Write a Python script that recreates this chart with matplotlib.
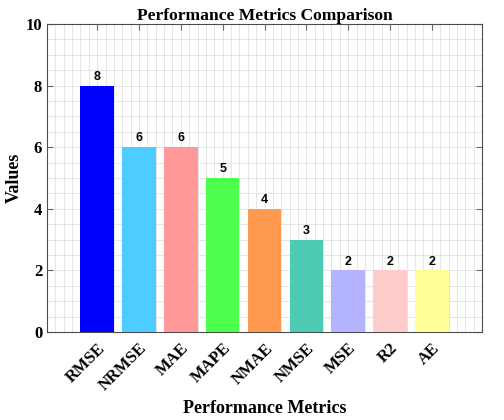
import matplotlib
matplotlib.use("Agg")
import matplotlib.pyplot as plt
import matplotlib.transforms as mtransforms
from matplotlib.ticker import MultipleLocator, FixedLocator

metrics = ["RMSE", "NRMSE", "MAE", "MAPE", "NMAE", "NMSE", "MSE", "R2", "AE"]
values = [8, 6, 6, 5, 4, 3, 2, 2, 2]
colors = [(0, 0, 1), (0.3, 0.8, 1), (1, 0.6, 0.6), (0.3, 1, 0.3), (1, 0.6, 0.3),
          (0.3, 0.8, 0.7), (0.7, 0.7, 1), (1, 0.8, 0.8), (1, 1, 0.6)]

serif = ["Liberation Serif", "DejaVu Serif"]
sans = ["Liberation Sans", "DejaVu Sans"]

fig = plt.figure(figsize=(5.04, 4.2), dpi=100)
ax = fig.add_axes([47/504, 88/420, 435/504, 308/420])

pos = list(range(1, len(metrics) + 1))
bars = ax.bar(pos, values, width=0.8, color=colors, zorder=3)
for p, v in zip(pos, values):
    ax.annotate(str(v), (p, v), xytext=(0, 2), textcoords="offset points",
                ha="center", va="bottom", fontsize=9, fontweight="bold",
                family=sans, zorder=4)

ax.set_xlim(-0.2, 10.2)
ax.set_ylim(0, 10)
ax.xaxis.set_major_locator(FixedLocator(pos))
ax.xaxis.set_minor_locator(MultipleLocator(0.2))
ax.yaxis.set_major_locator(MultipleLocator(2))
ax.yaxis.set_minor_locator(MultipleLocator(0.5))
ax.set_xticklabels(metrics, rotation=45, ha="right", rotation_mode="anchor",
                   fontsize=12, fontweight="bold", family=serif)
offset = mtransforms.ScaledTranslation(4/100, 0, fig.dpi_scale_trans)
for lab in ax.get_xticklabels():
    lab.set_transform(lab.get_transform() + offset)
for lab in ax.get_yticklabels():
    lab.set_fontsize(12); lab.set_fontweight("bold"); lab.set_family(serif)

ax.grid(True, which="both", color=(0.88, 0.88, 0.88), linewidth=0.6, zorder=0)
ax.set_axisbelow(True)
ax.tick_params(which="major", direction="in", length=4, top=True, right=True,
               color=(0.4, 0.4, 0.4), width=0.8)
ax.tick_params(which="minor", length=0)
ax.tick_params(axis="x", pad=6)
for s in ax.spines.values():
    s.set_color((0.3, 0.3, 0.3)); s.set_linewidth(0.8)

ax.set_title("Performance Metrics Comparison", fontsize=12.6, fontweight="bold",
             family=serif, pad=3)
ax.set_xlabel("Performance Metrics", fontsize=13, fontweight="bold", family=serif)
ax.set_ylabel("Values", fontsize=13, fontweight="bold", family=serif, labelpad=2)

fig.savefig("out.png", dpi=100)
